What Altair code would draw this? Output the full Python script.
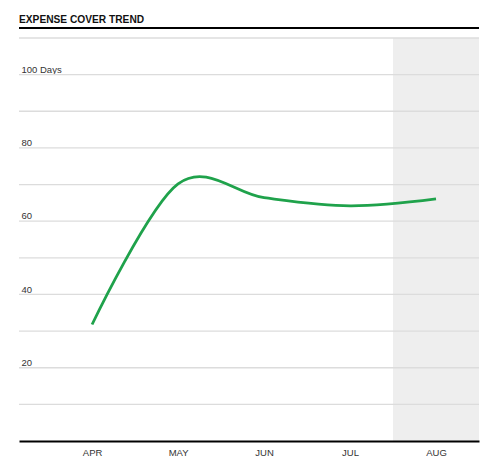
import altair as alt
import pandas as pd

TITLE = "EXPENSE COVER TREND"
months = ["APR", "MAY", "JUN", "JUL", "AUG"]
days = [31.8, 70.2, 66.4, 64.2, 66.1]
grid_values = list(range(10, 111, 10))
label_values = [20, 40, 60, 80, 100]
shade_month = "AUG"

line_df = pd.DataFrame({"idx": list(range(len(months))), "month": months, "days": days})
si = months.index(shade_month)
shade_df = pd.DataFrame({"x": [si - 0.5], "x2": [si + 0.5], "y": [0], "y2": [110]})
grid_df = pd.DataFrame({"v": grid_values})
title_df = pd.DataFrame({"t": [TITLE]})

W, H = 460, 403
FONT = "Liberation Sans"

label_arr = "[" + ",".join("'" + m + "'" for m in months) + "]"

xscale = alt.Scale(domain=[-0.85, 4.5], nice=False, zero=False)
yscale = alt.Scale(domain=[0, 110], nice=False, zero=True)

xaxis = alt.Axis(
    values=list(range(len(months))),
    labelExpr=label_arr + "[datum.value]",
    title=None, grid=False, ticks=False, tickSize=0,
    domainColor="#000000", domainWidth=2.2, zindex=2,
    labelFont=FONT, labelFontSize=9.5, labelColor="#333333",
    labelPadding=6, labelFlush=False,
)
yaxis = alt.Axis(
    values=label_values,
    labelExpr="datum.value == 100 ? '100 Days' : datum.label",
    title=None, grid=False,
    ticks=False, tickSize=0, domain=False,
    labelAlign="left", labelBaseline="alphabetic", labelPadding=-2,
    labelOffset=-2.3, labelFlush=False, labelOverlap=False,
    labelFont=FONT, labelFontSize=9.5, labelColor="#333333",
)

shade = alt.Chart(shade_df).mark_rect(color="#eeeeee").encode(
    x=alt.X("x:Q", scale=xscale, axis=xaxis),
    x2="x2:Q",
    y=alt.Y("y:Q", scale=yscale, axis=yaxis),
    y2="y2:Q",
)

grid = alt.Chart(grid_df).mark_rule(color="#dcdcdc", strokeWidth=1.3).encode(
    y=alt.Y("v:Q", scale=yscale),
)

line = alt.Chart(line_df).mark_line(
    color="#1fa24b", strokeWidth=2.8, interpolate="cardinal"
).encode(
    x=alt.X("idx:Q", scale=xscale),
    y=alt.Y("days:Q", scale=yscale),
)

underline = alt.Chart(title_df).mark_rule(color="#000000", strokeWidth=2.2, clip=False).encode(
    x=alt.value(0), x2=alt.value(W), y=alt.value(-10)
)

title_text = alt.Chart(title_df).mark_text(
    align="left", baseline="alphabetic", font=FONT, fontSize=10.2,
    fontWeight="bold", color="#111111", clip=False
).encode(x=alt.value(0), y=alt.value(-14.6), text="t:N")

chart = alt.layer(shade, grid, line, underline, title_text).properties(
    width=W, height=H,
    autosize=alt.AutoSizeParams(type="none"),
    padding={"left": 11, "top": 30, "right": 13, "bottom": 27},
    background="#ffffff",
).configure_view(stroke=None)

chart.save("out.html", embed_options={"renderer": "svg", "actions": False})
